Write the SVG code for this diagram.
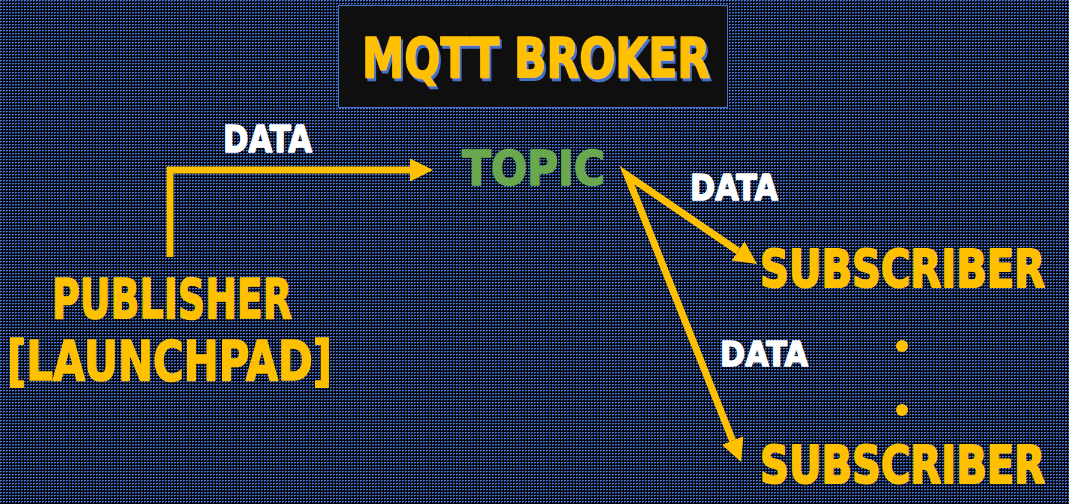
<svg xmlns="http://www.w3.org/2000/svg" width="1069" height="504" viewBox="0 0 1069 504">
  <defs>
    <pattern id="dots" width="3" height="3" patternUnits="userSpaceOnUse">
      <rect width="3" height="3" fill="#05070d"/>
      <rect x="0" y="0" width="2" height="1" fill="#4578d8"/>
      <rect x="0" y="1" width="1" height="1" fill="#2a4a90"/>
    </pattern>
    <filter id="blueShadow" x="-5%" y="-10%" width="115%" height="130%">
      <feOffset in="SourceAlpha" dx="2" dy="3" result="off"/>
      <feFlood flood-color="#4472c4"/>
      <feComposite in2="off" operator="in" result="sh"/>
      <feMerge>
        <feMergeNode in="sh"/>
        <feMergeNode in="SourceGraphic"/>
      </feMerge>
    </filter>
    <marker id="head" viewBox="0 0 10 10" refX="0" refY="5" markerWidth="3.3" markerHeight="3.5" orient="auto-start-reverse" markerUnits="strokeWidth">
      <path d="M0,0 L10,5 L0,10 z" fill="#ffc000"/>
    </marker>
    <style>
      .t { font-family: "DejaVu Sans", "Liberation Sans", sans-serif; font-weight: bold; stroke-width: 1.6; stroke-linejoin: round; }
      .yel { fill: #ffc000; stroke: #ffc000; }
      .wht { fill: #ffffff; stroke: #ffffff; }
      .grn { fill: #6aa84f; stroke: #6aa84f; }
      .conn { fill: none; stroke: #ffc000; stroke-width: 7; stroke-linejoin: miter; stroke-miterlimit: 10; }
    </style>
  </defs>
  <rect width="1069" height="504" fill="url(#dots)"/>

  <g id="broker">
    <rect x="338.5" y="5.5" width="389" height="102" fill="#0f0f0f" stroke="#4a72c4" stroke-width="1"/>
    <text class="t yel" filter="url(#blueShadow)" x="362" y="77" font-size="55" textLength="348" lengthAdjust="spacingAndGlyphs">MQTT BROKER</text>
  </g>

  <g id="connectors">
    <path class="conn" d="M170,257 V170 H410" marker-end="url(#head)"/>
    <path class="conn" d="M738,251 L627,175 L732.6,440.6" marker-start="url(#head)" marker-end="url(#head)"/>
  </g>

  <g id="label-data-1">
    <text class="t wht" x="223" y="152" font-size="37" textLength="89" lengthAdjust="spacingAndGlyphs">DATA</text>
  </g>
  <g id="label-data-2">
    <text class="t wht" x="690" y="200" font-size="36" textLength="88" lengthAdjust="spacingAndGlyphs">DATA</text>
  </g>
  <g id="label-data-3">
    <text class="t wht" x="720" y="366" font-size="34" textLength="88" lengthAdjust="spacingAndGlyphs">DATA</text>
  </g>

  <g id="topic">
    <text class="t grn" x="462" y="185" font-size="48" textLength="143" lengthAdjust="spacingAndGlyphs">TOPIC</text>
  </g>

  <g id="publisher">
    <text class="t yel" x="52" y="318" font-size="55" textLength="240" lengthAdjust="spacingAndGlyphs">PUBLISHER</text>
    <text class="t yel" x="7" y="380" font-size="55" textLength="325" lengthAdjust="spacingAndGlyphs">[LAUNCHPAD]</text>
  </g>

  <g id="subscriber-1">
    <text class="t yel" transform="translate(760,287) scale(1,1.27)" x="0" y="0" font-size="40" textLength="285" lengthAdjust="spacingAndGlyphs">SUBSCRIBER</text>
  </g>

  <g id="ellipsis">
    <circle cx="902" cy="346" r="6" fill="#ffc000"/>
    <circle cx="902" cy="410" r="6" fill="#ffc000"/>
  </g>

  <g id="subscriber-2">
    <text class="t yel" transform="translate(760,483) scale(1,1.27)" x="0" y="0" font-size="40" textLength="285" lengthAdjust="spacingAndGlyphs">SUBSCRIBER</text>
  </g>
</svg>
